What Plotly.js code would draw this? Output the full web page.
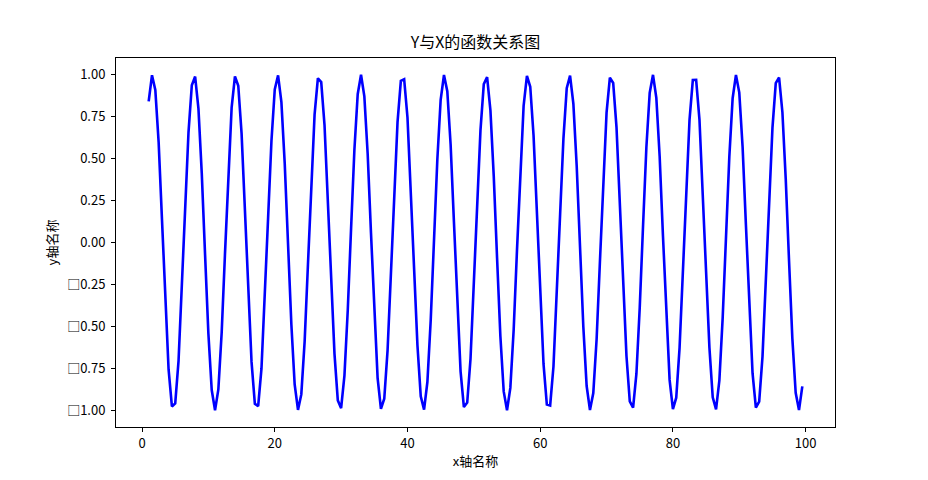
<!DOCTYPE html>
<html>
<head>
<meta charset="utf-8">
<script src="https://cdn.plot.ly/plotly-3.0.1.min.js"></script>
<style>html,body{margin:0;padding:0;background:#fff;}#chart{width:928px;height:480px;}</style>
</head>
<body>
<div id="chart"></div>
<script>
const xValues = [1,1.5,2,2.5,3,3.5,4,4.5,5,5.5,6,6.5,7,7.5,8,8.5,9,9.5,10,10.5,11,11.5,12,12.5,13,13.5,14,14.5,15,15.5,16,16.5,17,17.5,18,18.5,19,19.5,20,20.5,21,21.5,22,22.5,23,23.5,24,24.5,25,25.5,26,26.5,27,27.5,28,28.5,29,29.5,30,30.5,31,31.5,32,32.5,33,33.5,34,34.5,35,35.5,36,36.5,37,37.5,38,38.5,39,39.5,40,40.5,41,41.5,42,42.5,43,43.5,44,44.5,45,45.5,46,46.5,47,47.5,48,48.5,49,49.5,50,50.5,51,51.5,52,52.5,53,53.5,54,54.5,55,55.5,56,56.5,57,57.5,58,58.5,59,59.5,60,60.5,61,61.5,62,62.5,63,63.5,64,64.5,65,65.5,66,66.5,67,67.5,68,68.5,69,69.5,70,70.5,71,71.5,72,72.5,73,73.5,74,74.5,75,75.5,76,76.5,77,77.5,78,78.5,79,79.5,80,80.5,81,81.5,82,82.5,83,83.5,84,84.5,85,85.5,86,86.5,87,87.5,88,88.5,89,89.5,90,90.5,91,91.5,92,92.5,93,93.5,94,94.5,95,95.5,96,96.5,97,97.5,98,98.5,99,99.5];
const yValues = [0.8415,0.9975,0.9093,0.5985,0.1411,-0.3508,-0.7568,-0.9775,-0.9589,-0.7055,-0.2794,
0.2151,0.6570,0.9380,0.9894,0.7985,0.4121,-0.0752,-0.5440,-0.8797,-1.0000,-0.8755,-0.5366,-0.0663,
0.4202,0.8038,0.9906,0.9349,0.6503,0.2065,-0.2879,-0.7118,-0.9614,-0.9757,-0.7510,-0.3425,
0.1499,0.6055,0.9129,0.9968,0.8367,0.4716,-0.0089,-0.4872,-0.8463,-0.9981,-0.9056,-0.5913,-0.1323,
0.3591,0.7626,0.9794,0.9564,0.6993,0.2709,-0.2238,-0.6637,-0.9410,-0.9880,-0.7931,-0.4040,
0.0840,0.5515,0.8839,0.9999,0.8712,0.5291,0.0575,-0.4282,-0.8090,-0.9918,-0.9317,-0.6435,-0.1978,
0.2964,0.7180,0.9638,0.9736,0.7452,0.3342,-0.1586,-0.6126,-0.9165,-0.9961,-0.8318,-0.4638,
0.0177,0.4949,0.8510,0.9986,0.9017,0.5841,0.1236,-0.3673,-0.7682,-0.9811,-0.9538,-0.6930,-0.2624,
0.2324,0.6702,0.9439,0.9866,0.7877,0.3959,-0.0928,-0.5587,-0.8880,-0.9998,-0.8668,-0.5215,-0.0487,
0.4362,0.8142,0.9929,0.9285,0.6368,0.1891,-0.3048,-0.7242,-0.9662,-0.9716,-0.7392,-0.3258,
0.1673,0.6196,0.9200,0.9953,0.8268,0.4559,-0.0266,-0.5025,-0.8556,-0.9990,-0.8979,-0.5770,-0.1147,
0.3756,0.7740,0.9828,0.9511,0.6865,0.2538,-0.2410,-0.6768,-0.9468,-0.9851,-0.7822,-0.3877,
0.1016,0.5661,0.8920,0.9995,0.8623,0.5139,0.0398,-0.4441,-0.8193,-0.9939,-0.9253,-0.6300,-0.1804,
0.3133,0.7303,0.9684,0.9695,0.7332,0.3175,-0.1761,-0.6264,-0.9235,-0.9944,-0.8219,-0.4480,
0.0354,0.5102,0.8601,0.9994,0.8940,0.5697,0.1060,-0.3837,-0.7794,-0.9844,-0.9483,-0.6801,-0.2453,
0.2495,0.6832,0.9496,0.9836,0.7767,0.3796,-0.1104,-0.5733,-0.8960,-0.9992,-0.8578];
const xTickVals = [0,20,40,60,80,100];
const yTickVals = [-1,-0.75,-0.5,-0.25,0,0.25,0.5,0.75,1];
const yTickText = ["\u25A11.00","\u25A10.75","\u25A10.50","\u25A10.25","0.00","0.25","0.50","0.75","1.00"];
const chartTitle = "Y与X的函数关系图";
const xTitle = "x轴名称";
const yTitle = "y轴名称";

const FONT = "'Noto Sans CJK SC', 'DejaVu Sans', sans-serif";
const trace = {
  x: xValues, y: yValues, type: 'scatter', mode: 'lines',
  line: {color: '#0000ff', width: 2.6}, hoverinfo: 'skip'
};
const axisCommon = {
  showgrid: false, zeroline: false, showline: true, linecolor: '#000', linewidth: 1,
  mirror: true, ticks: 'outside', ticklen: 4, tickwidth: 1, tickcolor: '#000',
  tickfont: {family: FONT, size: 13, color: '#000'}
};
const layout = {
  width: 928, height: 480,
  margin: {l: 116, r: 93, t: 58, b: 53, pad: 0},
  paper_bgcolor: '#fff', plot_bgcolor: '#fff',
  showlegend: false,
  title: {text: chartTitle, font: {family: FONT, size: 16, color: '#000'},
          xref: 'paper', x: 0.5, xanchor: 'center', yref: 'container', y: 1 - 42/480, yanchor: 'middle'},
  xaxis: Object.assign({}, axisCommon, {
    range: [-3.925, 104.425], tickvals: xTickVals,
    title: {text: xTitle, font: {family: FONT, size: 13, color: '#000'}, standoff: 6}
  }),
  yaxis: Object.assign({}, axisCommon, {
    range: [-1.09999, 1.09999], tickvals: yTickVals, ticktext: yTickText,
    ticklabelstandoff: 3,
    title: {text: yTitle, font: {family: FONT, size: 13, color: '#000'}, standoff: 6}
  })
};
Plotly.newPlot('chart', [trace], layout, {staticPlot: true, displayModeBar: false});
</script>
</body>
</html>
